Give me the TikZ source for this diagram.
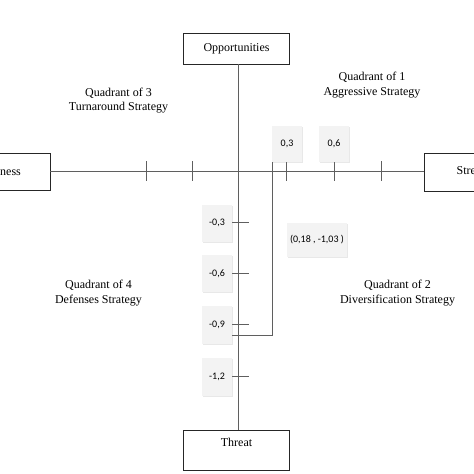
\documentclass[tikz,border=0pt]{standalone}
\usepackage{fontspec}
\setmainfont{Liberation Serif}
\newfontfamily\chipfont{Carlito}
\usetikzlibrary{calc,positioning,shadows}
\definecolor{axGray}{RGB}{95,95,95}
\definecolor{chipFill}{RGB}{243,243,243}
\tikzset{
  sidebox/.style={draw=black!85, line width=0.8pt, minimum width=106pt,
    minimum height=31pt, inner sep=0pt, font=\fontsize{12}{14}\selectfont},
  chip/.style={fill=chipFill, inner sep=0pt, minimum width=30pt, minimum height=36pt,
    drop shadow={opacity=0.18, shadow xshift=1.2pt, shadow yshift=-1.2pt},
    font=\chipfont\fontsize{10}{12}\selectfont},
  quad/.style={align=center, font=\fontsize{12}{14.5}\selectfont},
  axis/.style={draw=axGray, line width=0.9pt},
  tick/.style={draw=axGray, line width=0.8pt},
}
\begin{document}
\begin{tikzpicture}[x=1pt,y=-1pt]
  \useasboundingbox (0,0) rectangle (474,474);
  \coordinate (ctr) at (238,170);
  % boxes at the four ends
  \node[sidebox] (opp) at (236.5,48.5) {Opportunities};
  \node[sidebox, minimum height=40pt] (thr) at (236.5,450) {};
  \node[font=\fontsize{12}{14}\selectfont] (thrtxt) at ($(thr.north)+(0,13)$) {Threat};
  \node[sidebox, minimum height=37pt] (weak) at (-3,171.5) {Weakness};
  \node[sidebox, minimum height=38pt] (str) at (477,172) {Strength};
  % axes
  \draw[axis] (weak.east) -- (str.west |- weak.east);
  \draw[axis] (opp.south -| ctr) -- (thr.north -| ctr);
  \foreach \x in {146,192,286,334,381}
    \draw[tick] (\x,161) -- (\x,181);
  \foreach \y in {222,273,324,376}
    \draw[tick] (232,\y) -- (249,\y);
  % point
  \coordinate (ptTop) at (272,162);
  \coordinate (pt) at (272,335);
  \coordinate (ptEnd) at (229,335);
  \draw[tick] (ptTop) -- (pt) -- (ptEnd);
  % value chips
  \node[chip] (cx1) at (287,144) {0,3};
  \node[chip] (cx2) at (334,144) {0,6};
  \node[chip, minimum height=37pt] (cy1) at (217,223) {-0,3};
  \node[chip, minimum height=37pt] (cy2) at (217,273.5) {-0,6};
  \node[chip, minimum height=38pt] (cy3) at (217,324.5) {-0,9};
  \node[chip, minimum height=38pt] (cy4) at (217,377) {-1,2};
  \node[chip, minimum width=60pt, minimum height=34pt] (cpt) at (317,240) {(0,18 , -1,03 )};
  % quadrant names
  \node[quad] (q1) at (372,85) {Quadrant of 1\\Aggressive Strategy};
  \node[quad] (q3) at (118.5,100.5) {Quadrant of 3\\Turnaround Strategy};
  \node[quad] (q4) at (98.5,293) {Quadrant of 4\\Defenses Strategy};
  \node[quad] (q2) at (397.5,293) {Quadrant of 2\\Diversification Strategy};
\end{tikzpicture}
\end{document}
